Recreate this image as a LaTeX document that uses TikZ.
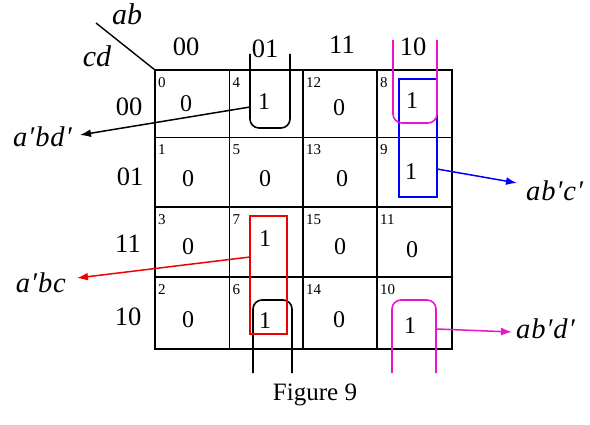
\documentclass[tikz,border=0pt]{standalone}
\usepackage{fontspec}
\setmainfont{Liberation Serif}
\newfontfamily\lblfont[LetterSpace=3]{Liberation Serif}
\usetikzlibrary{arrows.meta}
\definecolor{mag}{RGB}{235,20,200}
\definecolor{kblue}{RGB}{0,0,255}
\definecolor{kred}{RGB}{240,0,0}
\begin{document}
\begin{tikzpicture}[x=1pt,y=-1pt,
  gridline/.style={line width=1.9pt},
  loopline/.style={line width=1.6pt},
  arr/.style={line width=1.5pt,-{Latex[length=11pt,width=8pt]}},
  hdr/.style={font=\fontsize{26.5}{30}\selectfont,inner sep=0pt},
  val/.style={font=\fontsize{24}{28}\selectfont,inner sep=0pt},
  idx/.style={font=\fontsize{15}{17}\selectfont,inner sep=0pt,anchor=north west},
  lbl/.style={font=\lblfont\fontsize{28.5}{32}\selectfont\itshape,inner sep=0pt},
  varlbl/.style={font=\fontsize{30}{34}\selectfont\itshape,inner sep=0pt}]
\useasboundingbox (0,0) rectangle (590,425);
% corner
\coordinate (diagA) at (96,23);
\coordinate (diagB) at (155,70);
\draw[line width=1.4pt] (diagA) -- (diagB);
\node[varlbl] (ab) at (127,14) {ab};
\node[varlbl] (cd) at (97,56) {cd};
% column headers
\node[hdr] (c00) at (186,47) {00};
\node[hdr] (c01) at (265,49) {01};
\node[hdr] (c11) at (342,45) {11};
\node[hdr] (c10) at (413,47) {10};
% row headers
\node[hdr] (r00) at (129,107) {00};
\node[hdr] (r01) at (130,177) {01};
\node[hdr] (r11) at (128,244) {11};
\node[hdr] (r10) at (128,317) {10};
% grid
\draw[gridline] (155,70) rectangle (452,349);
\foreach \x in {229.5,303,377} \draw[gridline] (\x,70) -- (\x,349);
\foreach \y in {137.5,207,277} \draw[gridline] (155,\y) -- (452,\y);
% cell indices
\foreach \n/\x/\y in {0/155/70,4/229.5/70,12/303/70,8/377/70,
  1/155/137.5,5/229.5/137.5,13/303/137.5,9/377/137.5,
  3/155/207,7/229.5/207,15/303/207,11/377/207,
  2/155/277,6/229.5/277,14/303/277,10/377/277}
  \node[idx] (i\n) at (\x+3,\y+7) {\n};
% cell values
\foreach \n/\v/\x/\y in {0/0/186/104,4/1/264/102,12/0/339/108,8/1/412/101,
  1/0/188/179,5/0/265/179,13/0/342/179,9/1/411/172,
  3/0/188/247,7/1/265/239,15/0/340/247,11/0/412/250,
  2/0/188/320,6/1/265/321,14/0/339/320,10/1/410/326}
  \node[val] (v\n) at (\x,\y) {\v};
% loops
\draw[loopline,rounded corners=9pt] (250,54) -- (250,128) -- (290,128) -- (290,54);
\draw[loopline,rounded corners=9pt] (253,373) -- (253,300) -- (292,300) -- (292,373);
\draw[loopline,kred] (250,216) rectangle (287,334);
\draw[loopline,kblue] (399,79) rectangle (437,197);
\draw[loopline,mag,rounded corners=9pt] (393,40) -- (393,123) -- (437,123) -- (437,40);
\draw[loopline,mag,rounded corners=9pt] (392,373) -- (392,300) -- (436,300) -- (436,373);
% labels
\node[lbl,anchor=east] (L1) at (72,137) {a′bd′};
\node[lbl,anchor=west] (L2) at (526,191) {ab′c′};
\node[lbl,anchor=east] (L3) at (66,283) {a′bc};
\node[lbl,anchor=west] (L4) at (516,329) {ab′d′};
% arrow starts
\coordinate (s1) at (250,107);
\coordinate (s2) at (437,169);
\coordinate (s3) at (250,257);
\coordinate (s4) at (437,329);
\draw[arr] (s1) -- ([xshift=8pt,yshift=2pt]L1.east);
\draw[arr,kblue] (s2) -- ([xshift=-9pt,yshift=8pt]L2.west);
\draw[arr,kred] (s3) -- ([xshift=11pt,yshift=5pt]L3.east);
\draw[arr,mag] (s4) -- ([xshift=-4pt,yshift=-3pt]L4.west);
% caption
\node[font=\fontsize{25}{29}\selectfont,inner sep=0pt] (cap) at (315,395) {Figure 9};
\end{tikzpicture}
\end{document}
